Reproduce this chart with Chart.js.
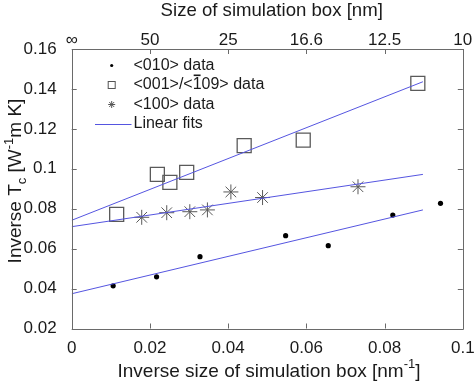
<!DOCTYPE html>
<html>
<head>
<meta charset="utf-8">
<style>
  html, body { margin: 0; padding: 0; background: #fff; }
  #wrap { width: 474px; height: 387px; }
</style>
<script src="https://cdn.jsdelivr.net/npm/chart.js@4/dist/chart.umd.min.js"></script>
</head>
<body>
<div id="wrap"><canvas id="TcChart"></canvas></div>
<script>
// values
const x010 = [0.0106, 0.0217, 0.0328, 0.0547, 0.0656, 0.0821, 0.0943];
const y010 = [0.0414, 0.0459, 0.0560, 0.0665, 0.0615, 0.0768, 0.0827];

const x001 = [0.0115, 0.0219, 0.0251, 0.0294, 0.0441, 0.0592, 0.0885];
const y001 = [0.0772, 0.0972, 0.0932, 0.0982, 0.1116, 0.1144, 0.1428];

const x100 = [0.0179, 0.0243, 0.0302, 0.0347, 0.0407, 0.0488, 0.0732];
const y100 = [0.0757, 0.0780, 0.0785, 0.0794, 0.0884, 0.0856, 0.0910];

// linear fit end points
const fitX = [0, 0.0898];
const fit010 = [0.0374, 0.0794];
const fit001 = [0.0742, 0.1436];
const fit100 = [0.0710, 0.0972];

const xTickLabels = ['0', '0.02', '0.04', '0.06', '0.08', '0.1'];
const topTickLabels = ['\u221E', '50', '25', '16.6', '12.5', '10'];
const yTickLabels = ['0.02', '0.04', '0.06', '0.08', '0.1', '0.12', '0.14', '0.16'];

const FONT = '"Liberation Sans", Arial, Helvetica, sans-serif';
const fitColor = '#5555e0';
const axisColor = '#6a6a6a';
const textColor = '#1a1a1a';

const pts = (xs, ys) => xs.map((x, i) => ({ x: x, y: ys[i] }));

// box round the plot with inward ticks, like MATLAB
const boxTicks = {
    id: 'boxTicks',
    afterDatasetsDraw(chart) {
        const ctx = chart.ctx;
        const a = chart.chartArea;
        const len = 5;
        ctx.save();
        ctx.strokeStyle = axisColor;
        ctx.lineWidth = 1;
        ctx.beginPath();
        ctx.rect(Math.round(a.left) + 0.5, Math.round(a.top) + 0.5,
                 Math.round(a.right - a.left), Math.round(a.bottom - a.top));
        chart.scales.x.ticks.forEach(t => {
            const px = Math.round(chart.scales.x.getPixelForValue(t.value)) + 0.5;
            ctx.moveTo(px, a.bottom); ctx.lineTo(px, a.bottom - len);
            ctx.moveTo(px, a.top); ctx.lineTo(px, a.top + len);
        });
        chart.scales.y.ticks.forEach(t => {
            const py = Math.round(chart.scales.y.getPixelForValue(t.value)) + 0.5;
            ctx.moveTo(a.left, py); ctx.lineTo(a.left + len, py);
            ctx.moveTo(a.right, py); ctx.lineTo(a.right - len, py);
        });
        ctx.stroke();
        ctx.restore();
    }
};

// draws a run of [text, size, shift] pieces starting at x0
function drawRich(ctx, parts, x0, y0) {
    let x = x0;
    parts.forEach(p => {
        ctx.font = p[1] + 'px ' + FONT;
        ctx.fillText(p[0], x, y0 + p[2]);
        x += ctx.measureText(p[0]).width;
    });
}
function richWidth(ctx, parts) {
    let w = 0;
    parts.forEach(p => {
        ctx.font = p[1] + 'px ' + FONT;
        w += ctx.measureText(p[0]).width;
    });
    return w;
}

// axis titles with sub/superscripts
const titles = {
    id: 'titles',
    afterDraw(chart) {
        const ctx = chart.ctx;
        ctx.save();
        ctx.fillStyle = textColor;
        ctx.textBaseline = 'alphabetic';
        ctx.textAlign = 'left';

        const bottom = [['Inverse size of simulation box [nm', 19, 0], ['-1', 13, -9], [']', 19, 0]];
        drawRich(ctx, bottom, 269 - richWidth(ctx, bottom) / 2, 377);

        const top = [['Size of simulation box [nm]', 18.6, 0]];
        drawRich(ctx, top, 271.7 - richWidth(ctx, top) / 2, 16);

        const left = [['Inverse T', 19, 0], ['c', 13, 5], [' [W', 19, 0], ['-1', 13, -8], ['m K]', 19, 0]];
        ctx.translate(21, 181);
        ctx.rotate(-Math.PI / 2);
        drawRich(ctx, left, -richWidth(ctx, left) / 2, 0);
        ctx.restore();
    }
};

// legend drawn in the upper left corner of the plot
const legendBox = {
    id: 'legendBox',
    afterDraw(chart) {
        const ctx = chart.ctx;
        const mx = 111.7, tx = 133.5;
        const rows = [65.5, 85, 104.5, 124];
        ctx.save();
        // dot
        ctx.fillStyle = '#000';
        ctx.beginPath(); ctx.arc(mx, rows[0], 1.6, 0, Math.PI * 2); ctx.fill();
        // square
        ctx.strokeStyle = '#555';
        ctx.lineWidth = 1;
        ctx.strokeRect(mx - 3.5, rows[1] - 3.5, 7, 7);
        // star
        ctx.beginPath();
        for (let k = 0; k < 4; k++) {
            const ang = k * Math.PI / 4;
            ctx.moveTo(mx - Math.cos(ang) * 3.5, rows[2] - Math.sin(ang) * 3.5);
            ctx.lineTo(mx + Math.cos(ang) * 3.5, rows[2] + Math.sin(ang) * 3.5);
        }
        ctx.stroke();
        // line
        ctx.strokeStyle = fitColor;
        ctx.beginPath(); ctx.moveTo(95, rows[3] + 0.5); ctx.lineTo(131.5, rows[3] + 0.5); ctx.stroke();

        ctx.fillStyle = textColor;
        ctx.font = '16px ' + FONT;
        ctx.textBaseline = 'middle';
        ctx.fillText('<010> data', tx, rows[0]);
        const pre = '<001>/<';
        ctx.fillText(pre, tx, rows[1]);
        const x1 = tx + ctx.measureText(pre).width;
        const w1 = ctx.measureText('1').width;
        ctx.fillText('1', x1, rows[1]);
        ctx.fillText('09> data', x1 + w1, rows[1]);
        ctx.fillRect(x1 + 1, rows[1] - 10.5, w1 - 2, 1.6);
        ctx.fillText('<100> data', tx, rows[2]);
        ctx.fillText('Linear fits', tx, rows[3]);
        ctx.restore();
    }
};

const ctx = document.getElementById('TcChart').getContext('2d');
new Chart(ctx, {
    type: 'scatter',
    data: {
        datasets: [
            {
                label: 'fit 010', type: 'line', data: pts(fitX, fit010),
                borderColor: fitColor, borderWidth: 1, pointRadius: 0, fill: false
            },
            {
                label: 'fit 001', type: 'line', data: pts(fitX, fit001),
                borderColor: fitColor, borderWidth: 1, pointRadius: 0, fill: false
            },
            {
                label: 'fit 100', type: 'line', data: pts(fitX, fit100),
                borderColor: fitColor, borderWidth: 1, pointRadius: 0, fill: false
            },
            {
                label: '<010> data', data: pts(x010, y010),
                pointStyle: 'circle', pointRadius: 2.6,
                backgroundColor: '#000', borderColor: '#000', borderWidth: 0
            },
            {
                label: '<001>/<109> data', data: pts(x001, y001),
                pointStyle: 'rect', pointRadius: 9.9,
                backgroundColor: 'rgba(0,0,0,0)', borderColor: '#5a5a5a', borderWidth: 1.3
            },
            {
                label: '<100> data', data: pts(x100, y100),
                pointStyle: 'star', pointRadius: 7.5,
                backgroundColor: 'rgba(0,0,0,0)', borderColor: '#5a5a5a', borderWidth: 1
            }
        ]
    },
    options: {
        responsive: true,
        maintainAspectRatio: false,
        animation: false,
        layout: { padding: { left: 0, right: 10.7, top: 0, bottom: 0 } },
        plugins: {
            legend: { display: false },
            tooltip: { enabled: false }
        },
        scales: {
            x: {
                type: 'linear', position: 'bottom', min: 0, max: 0.1,
                grid: { display: false }, border: { display: false },
                ticks: {
                    stepSize: 0.02, padding: 2, color: textColor,
                    font: { family: FONT, size: 17 },
                    maxRotation: 0,
                    callback: (v, i) => xTickLabels[i]
                },
                afterFit: s => { s.height = 58.5; s.paddingLeft = 0; s.paddingRight = 0; }
            },
            x2: {
                type: 'linear', position: 'top', min: 0, max: 0.1,
                grid: { display: false }, border: { display: false },
                ticks: {
                    stepSize: 0.02, padding: -10, color: textColor,
                    font: { family: FONT, size: 17 },
                    maxRotation: 0,
                    callback: (v, i) => topTickLabels[i]
                },
                afterFit: s => { s.height = 49; s.paddingLeft = 0; s.paddingRight = 0; }
            },
            y: {
                type: 'linear', position: 'left', min: 0.02, max: 0.16,
                grid: { display: false }, border: { display: false },
                ticks: {
                    stepSize: 0.02, padding: 7, color: textColor,
                    font: { family: FONT, size: 17 },
                    callback: (v, i) => yTickLabels[i]
                },
                afterFit: s => { s.width = 71.7; s.paddingTop = 0; s.paddingBottom = 0; }
            }
        }
    },
    plugins: [boxTicks, titles, legendBox]
});
</script>
</body>
</html>
